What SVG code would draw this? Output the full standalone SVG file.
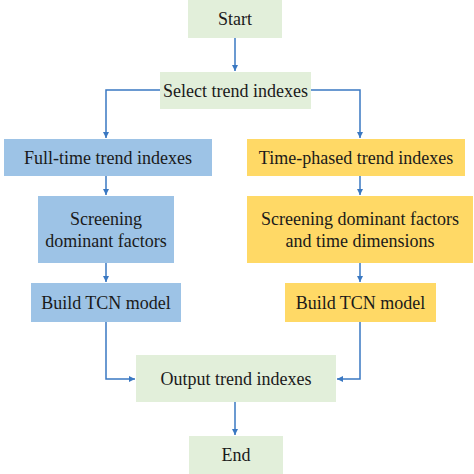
<svg xmlns="http://www.w3.org/2000/svg" width="474" height="474" viewBox="0 0 474 474">
<defs>
<style>
.g{fill:#e2efda}
.b{fill:#9dc3e6}
.y{fill:#ffd966}
text{font-size:18px;fill:#1a1a1a;text-anchor:middle}
.c{fill:none;stroke:#3a78c2;stroke-width:1.5}
</style>
<marker id="ah" viewBox="0 0 10 10" refX="10" refY="5" markerWidth="6" markerHeight="7" markerUnits="userSpaceOnUse" orient="auto">
<path d="M0,0 L10,5 L0,10 z" fill="#3a78c2"/>
</marker>
</defs>
<rect width="474" height="474" fill="#ffffff"/>
<g id="connectors">
<path class="c" d="M235,38 V71" marker-end="url(#ah)"/>
<path class="c" d="M160,90 H106 V138" marker-end="url(#ah)"/>
<path class="c" d="M311,90 H360 V138" marker-end="url(#ah)"/>
<path class="c" d="M106,176 V195" marker-end="url(#ah)"/>
<path class="c" d="M360,176 V195" marker-end="url(#ah)"/>
<path class="c" d="M106,263 V282" marker-end="url(#ah)"/>
<path class="c" d="M360,263 V282" marker-end="url(#ah)"/>
<path class="c" d="M106,322 V379 H135" marker-end="url(#ah)"/>
<path class="c" d="M360,322 V379 H337" marker-end="url(#ah)"/>
<path class="c" d="M235,402 V435" marker-end="url(#ah)"/>
</g>
<g font-family="'Liberation Serif', 'Times New Roman', serif">
<g id="start"><rect class="g" x="188" y="0" width="94" height="38"/><text x="235" y="25">Start</text></g>
<g id="select"><rect class="g" x="160" y="72" width="151" height="37"/><text x="235.5" y="96.5">Select trend indexes</text></g>
<g id="fulltime"><rect class="b" x="4" y="139" width="208" height="37"/><text x="108" y="163.5">Full-time trend indexes</text></g>
<g id="timephased"><rect class="y" x="247" y="139" width="218" height="37"/><text x="356" y="163.5">Time-phased trend indexes</text></g>
<g id="screen-left"><rect class="b" x="38" y="196" width="136" height="67"/><text x="106" y="225">Screening</text><text x="106" y="247">dominant factors</text></g>
<g id="screen-right"><rect class="y" x="247" y="196" width="226" height="67"/><text x="360" y="225">Screening dominant factors</text><text x="360" y="247">and time dimensions</text></g>
<g id="build-left"><rect class="b" x="31" y="283" width="150" height="39"/><text x="106" y="308.5">Build TCN model</text></g>
<g id="build-right"><rect class="y" x="285" y="283" width="151" height="39"/><text x="360.5" y="308.5">Build TCN model</text></g>
<g id="output"><rect class="g" x="136" y="355" width="200" height="47"/><text x="236" y="384.5">Output trend indexes</text></g>
<g id="end"><rect class="g" x="189" y="436" width="94" height="38"/><text x="236" y="461">End</text></g>
</g>
</svg>
